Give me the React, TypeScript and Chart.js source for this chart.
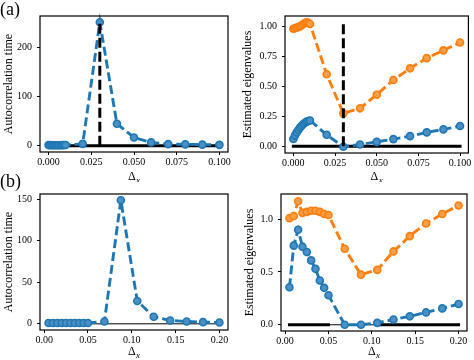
import React, { useEffect, useRef } from "react";
import { Chart, registerables } from "chart.js";

Chart.register(...registerables);

// ---------- data ----------
// panel (a)
const aX = [0, 0.001, 0.002, 0.003, 0.004, 0.005, 0.006, 0.007, 0.008, 0.009, 0.01, 0.02, 0.03, 0.04, 0.05, 0.06, 0.07, 0.08, 0.09, 0.1];
const aAutocorr = [1.5, 1.4, 1.3, 1.3, 1.2, 1.2, 1.2, 1.3, 1.4, 1.5, 1.8, 4, 252, 45, 17, 7, 3.5, 3, 2.5, 2];
const aEigSmall = [0.06, 0.09, 0.115, 0.135, 0.155, 0.17, 0.185, 0.195, 0.205, 0.21, 0.215, 0.095, -0.005, 0.014, 0.036, 0.059, 0.084, 0.115, 0.14, 0.168];
const aEigLarge = [0.98, 0.985, 0.99, 0.995, 1.0, 1.01, 1.02, 1.03, 1.035, 1.03, 1.02, 0.6, 0.274, 0.316, 0.43, 0.553, 0.65, 0.735, 0.8, 0.866];
const aTrueX = [0, 0.1];
const aTrueY = [0, 0];
const aCritX = [0.03, 0.03];
const aCritAutocorr = [0, 250];
const aCritEig = [0, 1.03];

// panel (b)
const bX = [0.005, 0.01, 0.015, 0.02, 0.025, 0.03, 0.035, 0.04, 0.045, 0.05, 0.06875, 0.0875, 0.10625, 0.125, 0.14375, 0.1625, 0.18125, 0.2];
const bAutocorr = [1, 1, 1, 1, 1, 1, 1, 1, 1, 1, 2.8, 149, 27.5, 8.5, 4, 2.8, 2, 1.6];
const bEigSmall = [0.355, 0.75, 0.9, 0.74, 0.69, 0.61, 0.53, 0.42, 0.35, 0.28, 0.0, 0.0, 0.018, 0.05, 0.08, 0.117, 0.155, 0.197];
const bEigLarge = [1.01, 1.03, 1.17, 1.06, 1.07, 1.08, 1.08, 1.07, 1.05, 1.04, 0.72, 0.475, 0.52, 0.695, 0.84, 0.96, 1.05, 1.13];
const bTrueX = [0.005, 0.2];
const bTrueY = [0, 0];
const bThickX1 = [0.005, 0.05];
const bThickX2 = [0.10625, 0.2];
const bThickY = [0, 0];

// ticks
const aXTicks = [0, 0.025, 0.05, 0.075, 0.1];
const bXTicks = [0, 0.05, 0.1, 0.15, 0.2];
const aAutoTicks = [0, 100, 200];
const aEigTicks = [0, 0.25, 0.5, 0.75, 1.0];
const bAutoTicks = [0, 50, 100, 150];
const bEigTicks = [0, 0.5, 1.0];

const Y_TITLE_AUTO = "Autocorrelation time";
const Y_TITLE_EIG = "Estimated eigenvalues";

// ---------- styles ----------
const BLUE = "#1f77b4";
const BLUE_FILL = "#4a90c6";
const ORANGE = "#ff7f0e";
const ORANGE_FILL = "#ff9d45";
const FONT = "'Liberation Serif', 'Times New Roman', serif";

type Kind = "blue" | "orange" | "thick" | "thin" | "crit";
type Series = { x: number[]; y: number[]; kind: Kind };

function makeDataset(s: Series) {
  const data = s.x.map((x, i) => ({ x, y: s.y[i] }));
  const base: any = { data, showLine: true, clip: false };
  if (s.kind === "blue" || s.kind === "orange") {
    const c = s.kind === "blue" ? BLUE : ORANGE;
    const f = s.kind === "blue" ? BLUE_FILL : ORANGE_FILL;
    return {
      ...base,
      borderColor: c,
      borderWidth: 2.9,
      borderDash: [9, 4],
      pointRadius: 3.5,
      pointBorderWidth: 1.6,
      pointBackgroundColor: f,
      pointBorderColor: c,
    };
  }
  if (s.kind === "crit") {
    return { ...base, borderColor: "#000", borderWidth: 3, borderDash: [10, 4], pointRadius: 0 };
  }
  return {
    ...base,
    borderColor: "#000",
    borderWidth: s.kind === "thick" ? 3 : 1,
    borderCapStyle: "square",
    pointRadius: 0,
  };
}

type PanelProps = {
  box: { x: number; y: number; w: number; h: number };
  area: { left: number; top: number; right: number; bottom: number };
  xRange: [number, number];
  yRange: [number, number];
  xTicks: number[];
  xDec: number;
  yTicks: number[];
  yDec: number;
  yTitle: string;
  yTitleX: number;
  xTitleY: number;
  series: Series[];
};

function Panel(p: PanelProps) {
  const ref = useRef<HTMLCanvasElement>(null);
  useEffect(() => {
    const canvas = ref.current!;
    const titles = {
      id: "panelTitles",
      afterDraw(chart: any) {
        const ctx = chart.ctx;
        const ca = chart.chartArea;
        ctx.save();
        // frame
        ctx.strokeStyle = "#000";
        ctx.lineWidth = 1.2;
        ctx.strokeRect(ca.left, ca.top, ca.right - ca.left, ca.bottom - ca.top);
        // y title
        ctx.fillStyle = "#000";
        ctx.font = `12px ${FONT}`;
        ctx.textAlign = "center";
        ctx.textBaseline = "middle";
        ctx.translate(p.yTitleX, (ca.top + ca.bottom) / 2);
        ctx.rotate(-Math.PI / 2);
        ctx.fillText(p.yTitle, 0, 0);
        ctx.restore();
        // x title: Δ with italic subscript x
        ctx.save();
        ctx.fillStyle = "#000";
        ctx.font = `12px ${FONT}`;
        ctx.textBaseline = "alphabetic";
        const d = "Δ";
        const dw = ctx.measureText(d).width;
        ctx.font = `italic 9px ${FONT}`;
        const xw = ctx.measureText("x").width;
        const total = dw + xw + 0.5;
        const cx = (ca.left + ca.right) / 2;
        const sx = cx - total / 2;
        ctx.font = `12px ${FONT}`;
        ctx.textAlign = "left";
        ctx.fillText(d, sx, p.xTitleY + 4);
        ctx.font = `italic 9px ${FONT}`;
        ctx.fillText("x", sx + dw + 0.5, p.xTitleY + 6.5);
        ctx.restore();
      },
    };
    const tickFont = { family: FONT, size: 10 };
    const gridCfg = {
      display: true,
      drawOnChartArea: false,
      drawTicks: true,
      tickLength: 3,
      color: "#000",
      tickColor: "#000",
      lineWidth: 1,
    };
    const chart = new Chart(canvas, {
      type: "scatter",
      data: { datasets: p.series.map(makeDataset) as any },
      options: {
        animation: false,
        responsive: false,
        maintainAspectRatio: false,
        devicePixelRatio: 1,
        events: [],
        layout: {
          padding: { left: 0, top: p.area.top, right: p.box.w - p.area.right, bottom: 0 },
        },
        plugins: { legend: { display: false }, tooltip: { enabled: false } },
        scales: {
          x: {
            type: "linear",
            min: p.xRange[0],
            max: p.xRange[1],
            afterBuildTicks: (s: any) => {
              s.ticks = p.xTicks.map((v) => ({ value: v }));
            },
            afterFit: (s: any) => {
              s.height = p.box.h - p.area.bottom;
            },
            ticks: {
              callback: (v: any) => Number(v).toFixed(p.xDec),
              font: tickFont,
              color: "#000",
              padding: 1,
              maxRotation: 0,
              autoSkip: false,
            },
            grid: gridCfg,
            border: { display: false },
          },
          y: {
            type: "linear",
            min: p.yRange[0],
            max: p.yRange[1],
            afterBuildTicks: (s: any) => {
              s.ticks = p.yTicks.map((v) => ({ value: v }));
            },
            afterFit: (s: any) => {
              s.width = p.area.left;
            },
            ticks: {
              callback: (v: any) => Number(v).toFixed(p.yDec),
              font: tickFont,
              color: "#000",
              padding: 5,
              autoSkip: false,
            },
            grid: gridCfg,
            border: { display: false },
          },
        },
      },
      plugins: [titles],
    });
    return () => chart.destroy();
  }, []);
  return (
    <canvas
      ref={ref}
      width={p.box.w}
      height={p.box.h}
      style={{ position: "absolute", left: p.box.x, top: p.box.y, width: p.box.w, height: p.box.h }}
    />
  );
}

export default function App() {
  const labelStyle: React.CSSProperties = {
    position: "absolute",
    left: 0,
    fontFamily: FONT,
    fontSize: 18,
    lineHeight: "18px",
    color: "#000",
  };
  return (
    <div style={{ position: "absolute", left: 0, top: 0, width: 474, height: 360, background: "#fff", overflow: "hidden" }}>
      <Panel
        box={{ x: 0, y: 0, w: 237, h: 182 }}
        area={{ left: 40, top: 16, right: 228, bottom: 152 }}
        xRange={[-0.005, 0.105]}
        yRange={[-12.6, 264.6]}
        xTicks={aXTicks}
        xDec={3}
        yTicks={aAutoTicks}
        yDec={0}
        yTitle={Y_TITLE_AUTO}
        yTitleX={9}
        xTitleY={176}
        series={[
          { x: aCritX, y: aCritAutocorr, kind: "crit" },
          { x: aX, y: aAutocorr, kind: "blue" },
          { x: aTrueX, y: aTrueY, kind: "thick" },
        ]}
      />
      <Panel
        box={{ x: 237, y: 0, w: 237, h: 182 }}
        area={{ left: 48, top: 16, right: 232, bottom: 153 }}
        xRange={[-0.005, 0.105]}
        yRange={[-0.057, 1.087]}
        xTicks={aXTicks}
        xDec={3}
        yTicks={aEigTicks}
        yDec={2}
        yTitle={Y_TITLE_EIG}
        yTitleX={11}
        xTitleY={176}
        series={[
          { x: aCritX, y: aCritEig, kind: "crit" },
          { x: aX, y: aEigSmall, kind: "blue" },
          { x: aX, y: aEigLarge, kind: "orange" },
          { x: aTrueX, y: aTrueY, kind: "thick" },
        ]}
      />
      <Panel
        box={{ x: 0, y: 182, w: 237, h: 178 }}
        area={{ left: 40, top: 12, right: 228, bottom: 148 }}
        xRange={[-0.00475, 0.20975]}
        yRange={[-7.45, 156.45]}
        xTicks={bXTicks}
        xDec={2}
        yTicks={bAutoTicks}
        yDec={0}
        yTitle={Y_TITLE_AUTO}
        yTitleX={9}
        xTitleY={169}
        series={[
          { x: bX, y: bAutocorr, kind: "blue" },
          { x: bTrueX, y: bTrueY, kind: "thin" },
        ]}
      />
      <Panel
        box={{ x: 237, y: 182, w: 237, h: 178 }}
        area={{ left: 44, top: 12, right: 230, bottom: 149 }}
        xRange={[-0.00475, 0.20975]}
        yRange={[-0.059, 1.239]}
        xTicks={bXTicks}
        xDec={2}
        yTicks={bEigTicks}
        yDec={1}
        yTitle={Y_TITLE_EIG}
        yTitleX={13}
        xTitleY={169}
        series={[
          { x: bX, y: bEigSmall, kind: "blue" },
          { x: bX, y: bEigLarge, kind: "orange" },
          { x: bThickX1, y: bThickY, kind: "thick" },
          { x: bThickX2, y: bThickY, kind: "thick" },
          { x: bTrueX, y: bTrueY, kind: "thin" },
        ]}
      />
      <div style={{ ...labelStyle, top: 0 }}>(a)</div>
      <div style={{ ...labelStyle, top: 172 }}>(b)</div>
    </div>
  );
}
